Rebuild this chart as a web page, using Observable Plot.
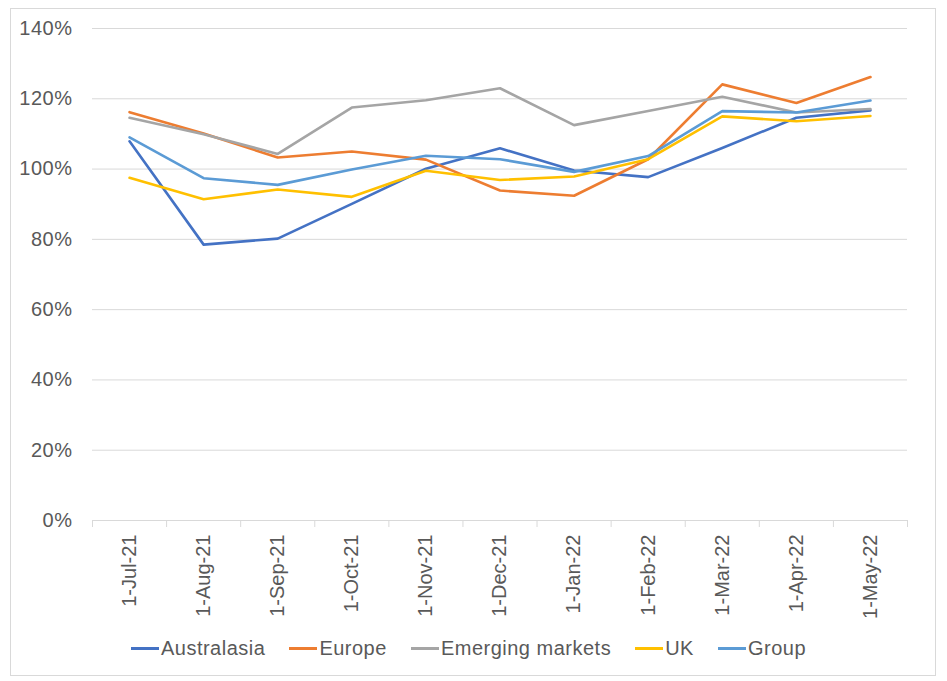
<!DOCTYPE html>
<html>
<head>
<meta charset="utf-8">
<script src="https://cdn.jsdelivr.net/npm/d3@7"></script>
<script src="https://cdn.jsdelivr.net/npm/@observablehq/plot@0.6"></script>
<style>
  html, body { margin: 0; padding: 0; background: #fff; }
  #frame { position: absolute; left: 10px; top: 8px; width: 926px; height: 668px; border: 1px solid #d9d9d9; box-sizing: border-box; }
  #wrap { position: absolute; left: 0; top: 0; width: 947px; }
  #legend { display: flex; justify-content: center; align-items: center; height: 36px; padding-right: 10px;
    font-family: "Liberation Sans", Arial, sans-serif; font-size: 20px; letter-spacing: 0.5px; color: #595959; }
  .item { display: flex; align-items: center; margin: 0 12px; }
  .sw { width: 28px; height: 3px; margin-right: 2px; }
  .yax text { letter-spacing: 0.5px; }
</style>
</head>
<body>
<div id="frame"></div>
<div id="wrap"><div id="chart"></div><div id="legend"></div></div>
<script>
const months = ["1-Jul-21","1-Aug-21","1-Sep-21","1-Oct-21","1-Nov-21","1-Dec-21","1-Jan-22","1-Feb-22","1-Mar-22","1-Apr-22","1-May-22"];
const seriesNames = ["Australasia","Europe","Emerging markets","UK","Group"];
const seriesColors = ["#4472C4","#ED7D31","#A5A5A5","#FFC000","#5B9BD5"];
const australasia = [107.9, 78.5, 80.2, 90.1, 100.1, 105.9, 99.6, 97.7, 106.0, 114.6, 116.7];
const europe      = [116.2, 110.1, 103.3, 105.0, 102.7, 93.9, 92.4, 102.8, 124.1, 118.8, 126.2];
const emerging    = [114.6, 109.9, 104.3, 117.5, 119.6, 123.0, 112.5, 116.5, 120.6, 116.1, 117.1];
const uk          = [97.5, 91.4, 94.2, 92.1, 99.5, 96.9, 97.9, 102.8, 115.0, 113.6, 115.1];
const group       = [109.0, 97.4, 95.5, 99.9, 103.8, 102.8, 99.2, 103.7, 116.5, 116.1, 119.5];
const yTicks = [0, 0.2, 0.4, 0.6, 0.8, 1.0, 1.2, 1.4];

const allValues = [australasia, europe, emerging, uk, group];
const rows = [];
seriesNames.forEach((name, s) => {
  allValues[s].forEach((v, i) => rows.push({series: name, i, value: v / 100}));
});
const boundaries = d3.range(months.length + 1).map(k => k - 0.5);

const font = '"Liberation Sans", Arial, sans-serif';
const plot = Plot.plot({
  width: 947,
  height: 630,
  marginLeft: 92,
  marginRight: 40,
  marginTop: 28,
  marginBottom: 110,
  style: {fontFamily: font, fontSize: "20px", color: "#595959", background: "transparent"},
  x: {type: "linear", domain: [-0.5, months.length - 0.5]},
  y: {domain: [0, 1.4]},
  color: {domain: seriesNames, range: seriesColors},
  marks: [
    Plot.ruleY(yTicks, {stroke: "#d9d9d9", strokeWidth: 1}),
    Plot.ruleX(boundaries, {y1: 0, y2: -0.02, stroke: "#d9d9d9", strokeWidth: 1, clip: false}),
    Plot.axisY({ticks: yTicks, tickSize: 0, tickPadding: 20, tickFormat: d => Math.round(d * 100) + "%", label: null, fontSize: 20, fill: "#595959", className: "yax"}),
    Plot.axisX({ticks: d3.range(months.length), tickSize: 0, tickPadding: 14, tickRotate: -90, tickFormat: i => months[i], label: null, fontSize: 20, fill: "#595959"}),
    Plot.line(rows, {x: "i", y: "value", z: "series", stroke: "series", strokeWidth: 2.6, strokeLinejoin: "round"})
  ]
});
document.getElementById("chart").appendChild(plot);

const legend = document.getElementById("legend");
seriesNames.forEach((name, s) => {
  const it = document.createElement("div");
  it.className = "item";
  const sw = document.createElement("div");
  sw.className = "sw";
  sw.style.background = seriesColors[s];
  const t = document.createElement("span");
  t.textContent = name;
  it.appendChild(sw); it.appendChild(t);
  legend.appendChild(it);
});
</script>
</body>
</html>
